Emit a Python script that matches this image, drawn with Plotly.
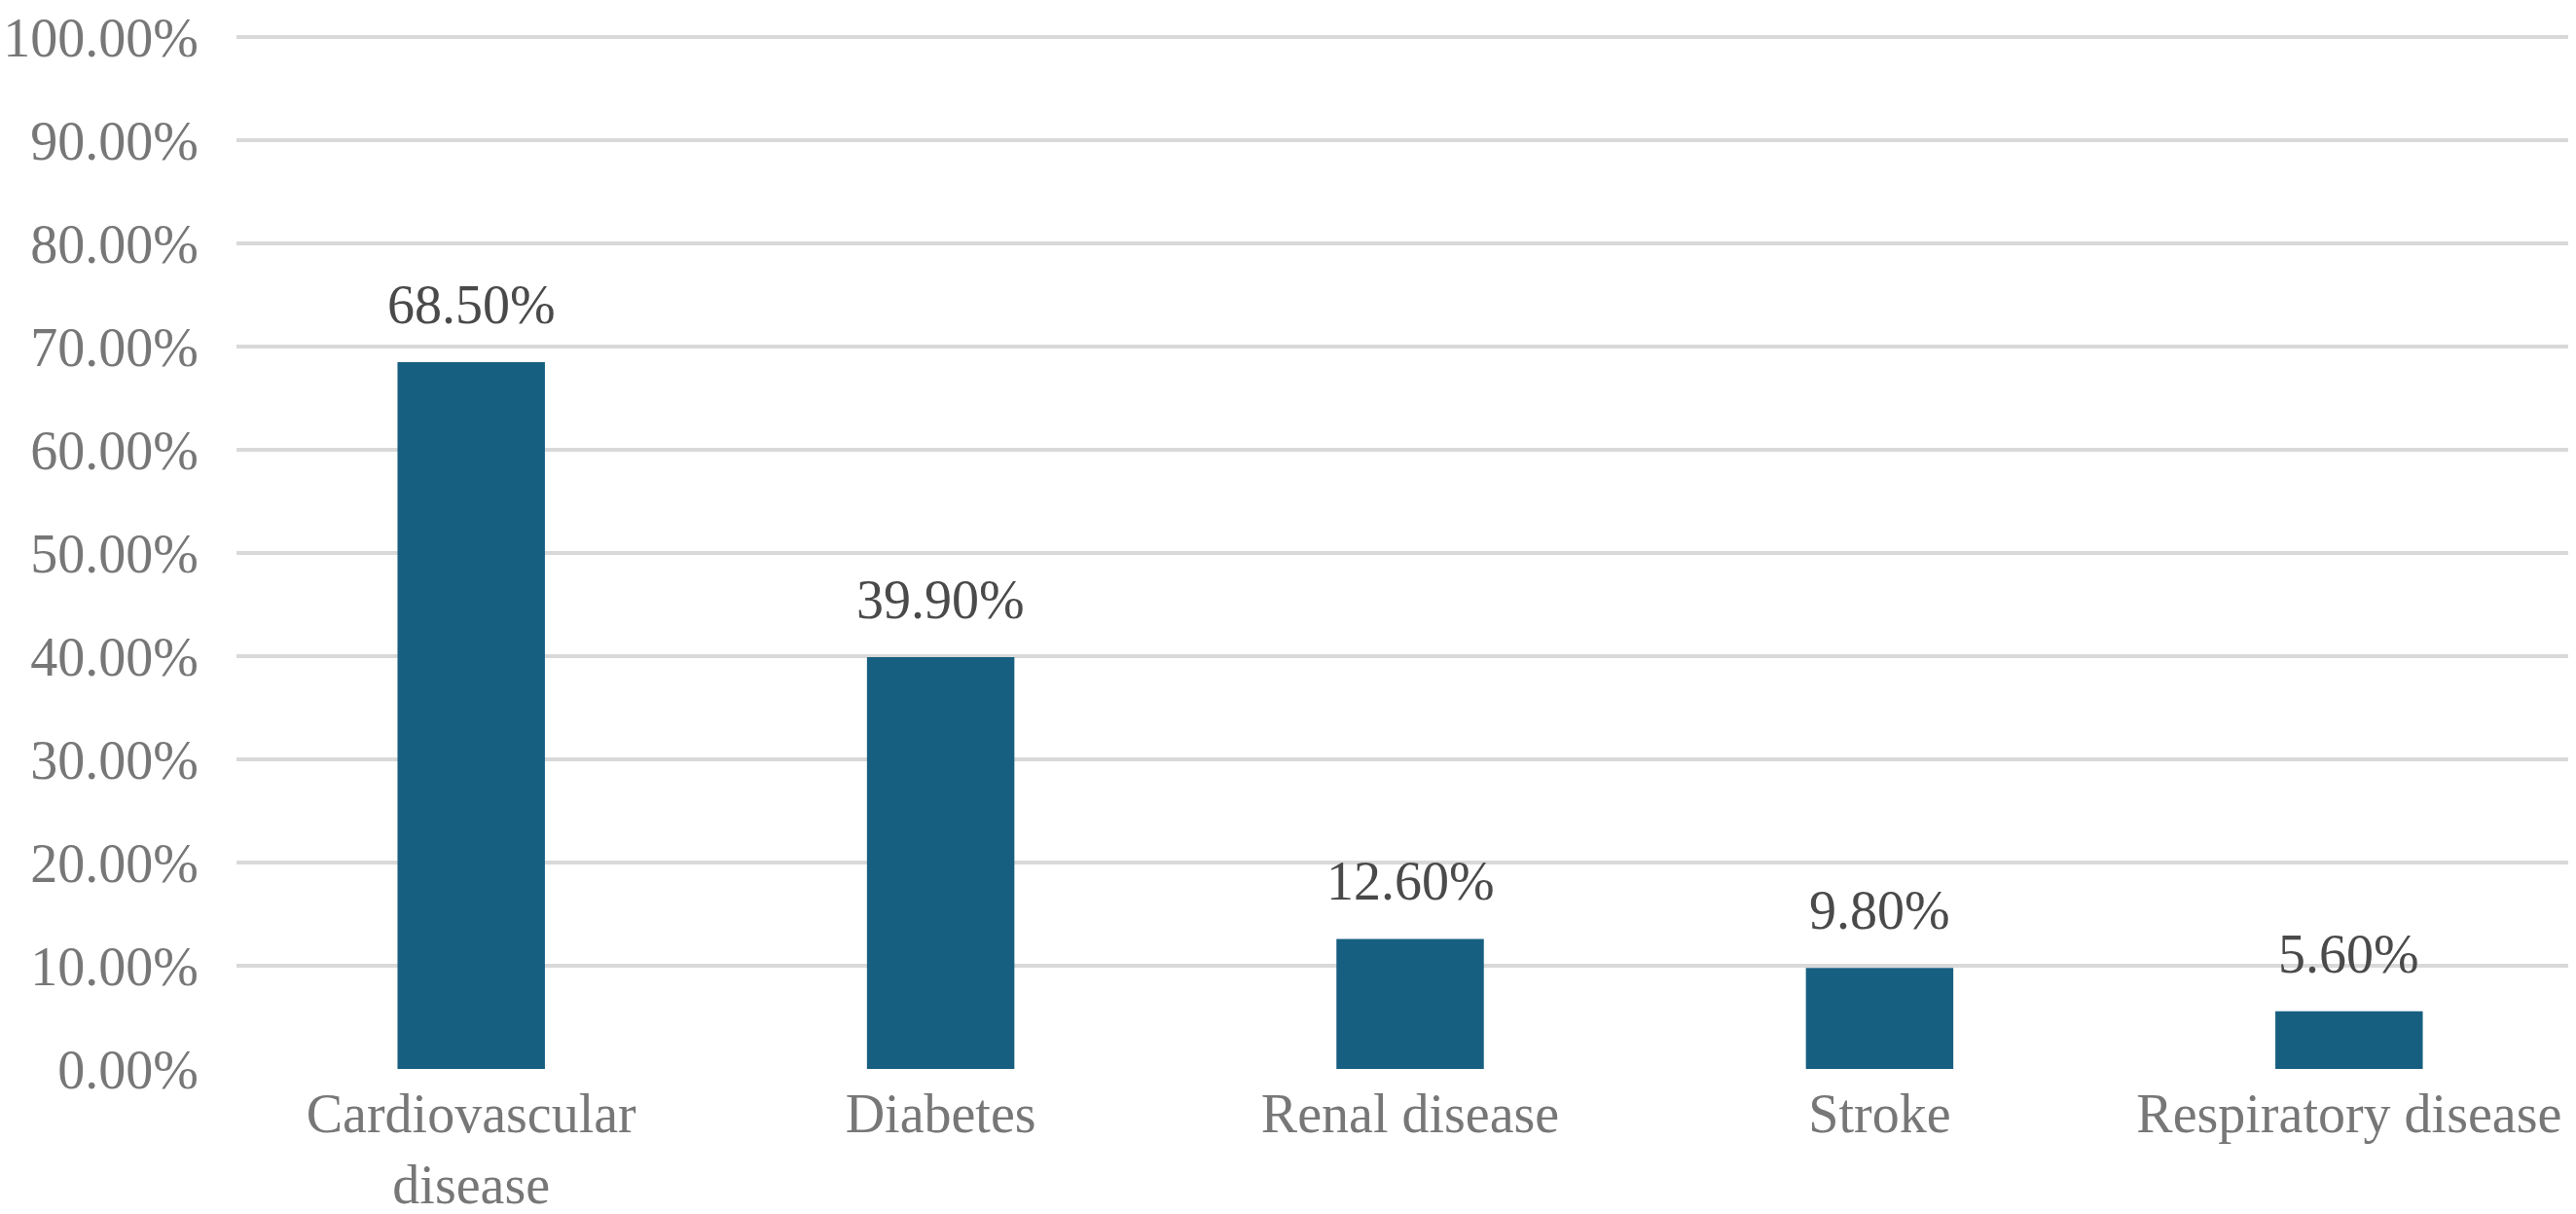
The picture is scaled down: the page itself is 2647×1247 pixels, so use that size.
import plotly.graph_objects as go

categories = ["Cardiovascular<br>disease", "Diabetes", "Renal disease", "Stroke", "Respiratory disease"]
values = [0.685, 0.399, 0.126, 0.098, 0.056]
y_ticks = [0.0, 0.1, 0.2, 0.3, 0.4, 0.5, 0.6, 0.7, 0.8, 0.9, 1.0]
y_tick_labels = ["0.00%", "10.00%", "20.00%", "30.00%", "40.00%", "50.00%",
                 "60.00%", "70.00%", "80.00%", "90.00%", "100.00%"]

FONT = "Liberation Serif, Times New Roman, serif"

fig = go.Figure()
fig.add_trace(go.Bar(
    x=categories,
    y=values,
    marker=dict(color="#175F80", line=dict(width=0)),
    width=0.314,
    hoverinfo="skip",
))

for c, v in zip(categories, values):
    fig.add_annotation(
        x=c, y=v, xref="x", yref="y",
        text=f"{v*100:.2f}%",
        showarrow=False,
        yanchor="bottom",
        yshift=26,
        font=dict(family=FONT, size=56, color="#4a4a4a"),
    )

fig.update_layout(
    width=2647,
    height=1239,
    margin=dict(l=235, r=0, t=28, b=149),
    paper_bgcolor="white",
    plot_bgcolor="white",
    showlegend=False,
    font=dict(family=FONT, size=56, color="#777777"),
    xaxis=dict(
        showgrid=False,
        showline=False,
        zeroline=False,
        ticks="",
        automargin=False,
        tickfont=dict(family=FONT, size=56, color="#777777"),
        ticklabelstandoff=8,
    ),
    yaxis=dict(
        range=[0, 1.002],
        tickvals=y_ticks,
        ticktext=y_tick_labels,
        showgrid=True,
        gridcolor="#d9d9d9",
        gridwidth=4,
        zeroline=False,
        showline=False,
        ticks="",
        automargin=False,
        ticklabelstandoff=38,
        ticklabeloverflow="allow",
        tickfont=dict(family=FONT, size=56, color="#777777"),
    ),
)

fig.write_html("out.html")
